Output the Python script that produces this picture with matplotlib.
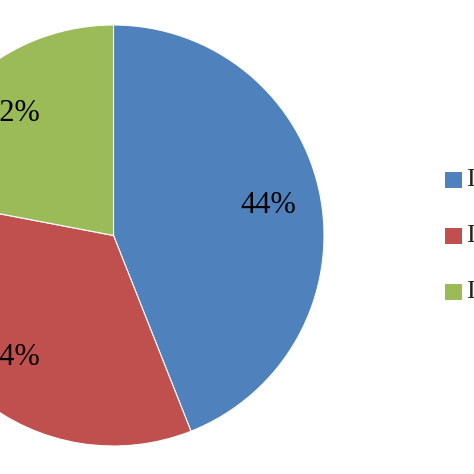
import matplotlib.pyplot as plt
from matplotlib.patches import Rectangle

labels = ["I", "I", "I"]
shares = [44, 34, 22]
pct_text = ["44%", "34%", "22%"]
colors = ["#4F81BD", "#C0504D", "#9BBB59"]

fig = plt.figure(figsize=(4.74, 4.74), dpi=100)
ax = fig.add_axes([0, 0, 1, 1])

# pie is partly cut off on the left in the reference
wedges, texts = ax.pie(shares, colors=colors, startangle=90, counterclock=False,
                       center=(113.5, 238.5), radius=210.5, labels=pct_text,
                       labeldistance=0.75, frame=True,
                       wedgeprops={"edgecolor": "white", "linewidth": 0.8},
                       textprops={"fontsize": 22, "family": "Liberation Serif",
                                  "color": "black", "ha": "center", "va": "center"})
ax.set_xlim(0, 474)
ax.set_ylim(0, 474)
ax.set_aspect("equal")
ax.axis("off")

# legend drawn by hand (text runs off the right edge)
for i, (lab, c) in enumerate(zip(labels, colors)):
    y = 474 - 180 - i * 56
    ax.add_patch(Rectangle((445, y - 8), 17, 16, facecolor=c, edgecolor="none"))
    ax.text(466, y, lab, fontsize=19, family="Liberation Serif",
            color="#2b2118", va="center", ha="left")

fig.savefig("out.png", dpi=100)
